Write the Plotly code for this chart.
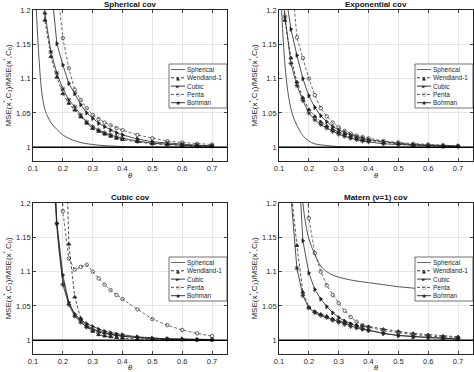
import plotly.graph_objects as go

# ---------------- data ----------------
theta = [0.10, 0.12, 0.14, 0.16, 0.18, 0.20, 0.22, 0.24, 0.26, 0.28, 0.30,
         0.32, 0.34, 0.36, 0.38, 0.40, 0.45, 0.50, 0.55, 0.60, 0.65, 0.70]

# Panel 1: Spherical cov
sph_t_1 = [0.11, 0.12, 0.13, 0.14, 0.15, 0.16, 0.18, 0.20, 0.22, 0.25, 0.30, 0.40, 0.50, 0.60, 0.70]
sph_v_1 = [1.21, 1.13, 1.078, 1.055, 1.044, 1.036, 1.026, 1.018, 1.013, 1.008, 1.004, 1.001, 1.0005, 1.0003, 1.0002]
wend_1 = [None, 1.30, 1.185, 1.132, 1.102, 1.078, 1.064, 1.054, 1.044, 1.035, 1.027, 1.023, 1.019, 1.016, 1.013, 1.011, 1.008, 1.005, 1.004, 1.003, 1.002, 1.001]
cubi_1 = [None, None, None, 1.24, 1.151, 1.12, 1.093, 1.078, 1.062, 1.05, 1.042, 1.035, 1.03, 1.025, 1.021, 1.018, 1.012, 1.008, 1.006, 1.004, 1.003, 1.002]
pent_1 = [None, None, None, None, 1.24, 1.159, 1.115, 1.084, 1.069, 1.057, 1.047, 1.041, 1.036, 1.032, 1.028, 1.025, 1.018, 1.013, 1.009, 1.007, 1.005, 1.004]
bohm_1 = [None, 1.32, 1.195, 1.139, 1.108, 1.085, 1.069, 1.059, 1.047, 1.037, 1.030, 1.025, 1.021, 1.018, 1.015, 1.013, 1.009, 1.006, 1.004, 1.003, 1.002, 1.002]

# Panel 2: Exponential cov
sph_t_2 = [0.105, 0.11, 0.12, 0.13, 0.14, 0.15, 0.16, 0.18, 0.20, 0.22, 0.25, 0.30, 0.40, 0.50, 0.60, 0.70]
sph_v_2 = [1.24, 1.19, 1.12, 1.08, 1.056, 1.042, 1.032, 1.017, 1.009, 1.005, 1.003, 1.001, 1.0005, 1.0003, 1.0002, 1.0001]
wend_2 = [1.35, 1.185, 1.13, 1.095, 1.072, 1.055, 1.045, 1.037, 1.031, 1.026, 1.022, 1.019, 1.016, 1.013, 1.011, 1.010, 1.007, 1.005, 1.003, 1.002, 1.002, 1.001]
cubi_2 = [None, 1.23, 1.172, 1.134, 1.1, 1.075, 1.058, 1.046, 1.037, 1.03, 1.025, 1.021, 1.018, 1.015, 1.013, 1.011, 1.008, 1.006, 1.004, 1.003, 1.002, 1.002]
pent_2 = [None, None, 1.26, 1.16, 1.13, 1.1, 1.076, 1.057, 1.045, 1.036, 1.029, 1.024, 1.02, 1.017, 1.015, 1.013, 1.009, 1.007, 1.005, 1.004, 1.003, 1.002]
bohm_2 = [1.35, 1.19, 1.122, 1.09, 1.068, 1.05, 1.04, 1.033, 1.028, 1.023, 1.019, 1.016, 1.013, 1.011, 1.009, 1.008, 1.005, 1.004, 1.003, 1.002, 1.001, 1.001]

# Panel 3: Cubic cov
sph_t_3 = [0.165, 0.17, 0.18, 0.19, 0.20, 0.22, 0.24, 0.26, 0.28, 0.30, 0.35, 0.40, 0.50, 0.60, 0.70]
sph_v_3 = [1.3, 1.24, 1.165, 1.12, 1.09, 1.056, 1.038, 1.028, 1.022, 1.017, 1.01, 1.006, 1.003, 1.001, 1.0005]
wend_3 = [None, None, None, None, None, 1.45, 1.14, 1.063, 1.032, 1.02, 1.013, 1.008, 1.006, 1.005, 1.004, 1.003, 1.002, 1.001, 1.001, 1.001, 1.0005, 1.0005]
cubi_3 = [None, None, None, 1.35, 1.17, 1.095, 1.055, 1.038, 1.03, 1.024, 1.02, 1.016, 1.013, 1.011, 1.009, 1.008, 1.005, 1.003, 1.002, 1.002, 1.001, 1.001]
pent_3 = [None, None, None, None, 1.6, 1.188, 1.119, 1.103, 1.107, 1.11, 1.1, 1.09, 1.081, 1.073, 1.066, 1.06, 1.045, 1.031, 1.022, 1.015, 1.01, 1.006]
bohm_3 = [None, None, None, 1.35, 1.17, 1.081, 1.052, 1.035, 1.026, 1.019, 1.015, 1.012, 1.01, 1.008, 1.007, 1.006, 1.004, 1.002, 1.002, 1.001, 1.001, 1.001]

# Panel 4: Matern (nu=1) cov
sph_t_4 = [0.17, 0.18, 0.19, 0.20, 0.22, 0.24, 0.26, 0.28, 0.30, 0.35, 0.40, 0.45, 0.50, 0.55, 0.60, 0.65, 0.70]
sph_v_4 = [1.26, 1.2, 1.168, 1.148, 1.125, 1.108, 1.1, 1.095, 1.092, 1.087, 1.084, 1.081, 1.078, 1.076, 1.073, 1.071, 1.069]
wend_4 = [None, 2.0, 1.22, 1.138, 1.07, 1.048, 1.042, 1.038, 1.035, 1.031, 1.028, 1.026, 1.024, 1.022, 1.021, 1.02, 1.016, 1.013, 1.01, 1.008, 1.006, 1.005]
cubi_4 = [None, None, None, 1.3, 1.145, 1.098, 1.074, 1.06, 1.049, 1.04, 1.033, 1.028, 1.024, 1.02, 1.017, 1.015, 1.01, 1.007, 1.005, 1.004, 1.003, 1.002]
pent_4 = [None, None, None, None, 1.35, 1.178, 1.127, 1.1, 1.08, 1.066, 1.054, 1.043, 1.034, 1.027, 1.022, 1.019, 1.014, 1.011, 1.008, 1.006, 1.005, 1.004]
bohm_4 = [None, 1.9, 1.21, 1.105, 1.065, 1.047, 1.04, 1.036, 1.033, 1.029, 1.026, 1.023, 1.02, 1.018, 1.016, 1.014, 1.01, 1.007, 1.005, 1.004, 1.003, 1.002]

titles = ["Spherical cov", "Exponential cov", "Cubic cov", "Matern (\u03bd=1) cov"]
series_names = ["Spherical", "Wendland-1", "Cubic", "Penta", "Bohman"]
x_ticks = [0.1, 0.2, 0.3, 0.4, 0.5, 0.6, 0.7]
y_ticks = [1.0, 1.05, 1.1, 1.15, 1.2]
y_tick_labels = ["1", "1.05", "1.1", "1.15", "1.2"]
ref_level = 1.0

panels = [
    (sph_t_1, sph_v_1, wend_1, cubi_1, pent_1, bohm_1),
    (sph_t_2, sph_v_2, wend_2, cubi_2, pent_2, bohm_2),
    (sph_t_3, sph_v_3, wend_3, cubi_3, pent_3, bohm_3),
    (sph_t_4, sph_v_4, wend_4, cubi_4, pent_4, bohm_4),
]

# ---------------- layout geometry ----------------
W, H = 474, 372
ML, MR, MT, MB = 33, 1, 10, 18
PW, PH = W - ML - MR, H - MT - MB
boxes = [(33, 10, 227, 161), (279, 10, 473, 161), (33, 203, 227, 354), (279, 203, 473, 354)]

def px(x, y):
    return (x - ML) / PW, (H - MB - y) / PH

DARK = "#222222"
styles = {
    "Spherical": dict(dash="solid", symbol=None, color="#555555"),
    "Wendland-1": dict(dash="3px,2px", symbol="triangle-up", color=DARK),
    "Cubic": dict(dash="solid", symbol="triangle-right", color=DARK),
    "Penta": dict(dash="3px,2px", symbol="circle-open", color="#444444"),
    "Bohman": dict(dash="solid", symbol="asterisk-open", color=DARK),
}
marker_size = {"Wendland-1": 3.5, "Cubic": 3.5, "Penta": 3.5, "Bohman": 4}
legend_glyph = {"Wendland-1": "\u25B2", "Cubic": "\u25BA", "Penta": "\u25CB", "Bohman": "\u2731"}

fig = go.Figure()
layout = dict(
    width=W, height=H, margin=dict(l=ML, r=MR, t=MT, b=MB),
    paper_bgcolor="white", plot_bgcolor="white", showlegend=False,
    font=dict(family="Liberation Sans, Arial, sans-serif", size=7, color="#262626"),
)
shapes, annotations = [], []

for i, (sph_t, sph_v, wend, cubi, pent, bohm) in enumerate(panels):
    k = "" if i == 0 else str(i + 1)
    xa, ya = "x" + k, "y" + k
    x0, y0, x1, y1 = boxes[i]
    dx0, dy1 = px(x0, y0)
    dx1, dy0 = px(x1, y1)
    layout["xaxis" + k] = dict(
        domain=[dx0, dx1], anchor=ya, range=[0.1, 0.75], tickvals=x_ticks,
        ticktext=[f"{t:.1f}" for t in x_ticks], ticks="inside", ticklen=3,
        showgrid=True, gridcolor="#e6e6e6", gridwidth=0.6, zeroline=False,
        showline=True, linecolor="#262626", linewidth=0.8, mirror="ticks",
        tickfont=dict(size=7.5), title=dict(text="<i>\u03b8</i>", font=dict(size=8), standoff=0),
    )
    layout["yaxis" + k] = dict(
        domain=[dy0, dy1], anchor=xa, range=[0.98, 1.2], tickvals=y_ticks,
        ticktext=y_tick_labels, ticks="inside", ticklen=3,
        showgrid=True, gridcolor="#e6e6e6", gridwidth=0.6, zeroline=False,
        showline=True, linecolor="#262626", linewidth=0.8, mirror="ticks",
        tickfont=dict(size=7.5),
        title=dict(text="MSE(x<sup>*</sup>,C<sub>1</sub>)/MSE(x<sup>*</sup>,C<sub>0</sub>)",
                   font=dict(size=8), standoff=3),
    )
    shapes.append(dict(type="line", xref=xa + " domain", yref=ya, x0=0, x1=1,
                       y0=ref_level, y1=ref_level, line=dict(color="black", width=1.6), layer="above"))

    st = styles["Spherical"]
    fig.add_trace(go.Scatter(x=sph_t, y=sph_v, mode="lines", xaxis=xa, yaxis=ya,
                             name="Spherical", line=dict(color=st["color"], width=1, shape="spline")))
    for name, vals in zip(series_names[1:], [wend, cubi, pent, bohm]):
        st = styles[name]
        fig.add_trace(go.Scatter(
            x=theta, y=vals, mode="lines+markers", xaxis=xa, yaxis=ya, name=name,
            line=dict(color=st["color"], width=0.8, dash=st["dash"]),
            marker=dict(symbol=st["symbol"], size=marker_size[name],
                        color=st["color"], line=dict(width=0.8, color=st["color"])),
            connectgaps=False))

    tx, ty = px((x0 + x1) / 2, y0 - 0.5)
    annotations.append(dict(text="<b>" + titles[i] + "</b>", x=tx, y=ty, xref="paper", yref="paper",
                            xanchor="center", yanchor="bottom", showarrow=False, borderpad=0,
                            font=dict(size=8, color="#111111")))

    lw, lh = 58, 44
    lx0 = x1 - lw
    ly0 = 64 if i < 2 else 257
    bx0, by0 = px(lx0, ly0)
    bx1, by1 = px(lx0 + lw, ly0 + lh)
    shapes.append(dict(type="rect", xref="paper", yref="paper", x0=bx0, x1=bx1, y0=by1, y1=by0,
                       fillcolor="white", line=dict(color="#333333", width=0.7), layer="above"))
    for j, name in enumerate(series_names):
        st = styles[name]
        yc = ly0 + 5.5 + j * 8.3
        sx0, sy = px(lx0 + 2, yc)
        sx1, _ = px(lx0 + 16, yc)
        shapes.append(dict(type="line", xref="paper", yref="paper", x0=sx0, x1=sx1, y0=sy, y1=sy,
                           line=dict(color=st["color"], width=0.9, dash=st["dash"]), layer="above"))
        if name in legend_glyph:
            gx, gy = px(lx0 + 9, yc)
            annotations.append(dict(text=legend_glyph[name], x=gx, y=gy, xref="paper", yref="paper",
                                    xanchor="center", yanchor="middle", showarrow=False, borderpad=0,
                                    font=dict(size=5, color=st["color"], family="DejaVu Sans")))
        tx2, ty2 = px(lx0 + 17, yc)
        annotations.append(dict(text=name, x=tx2, y=ty2, xref="paper", yref="paper",
                                xanchor="left", yanchor="middle", showarrow=False, borderpad=0,
                                font=dict(size=6.5, color="#262626")))

layout["shapes"] = shapes
layout["annotations"] = annotations
fig.update_layout(**layout)
fig.write_html("out.html", config={"displayModeBar": False},
               post_script="document.body.style.margin='0';document.body.style.overflow='hidden';")
